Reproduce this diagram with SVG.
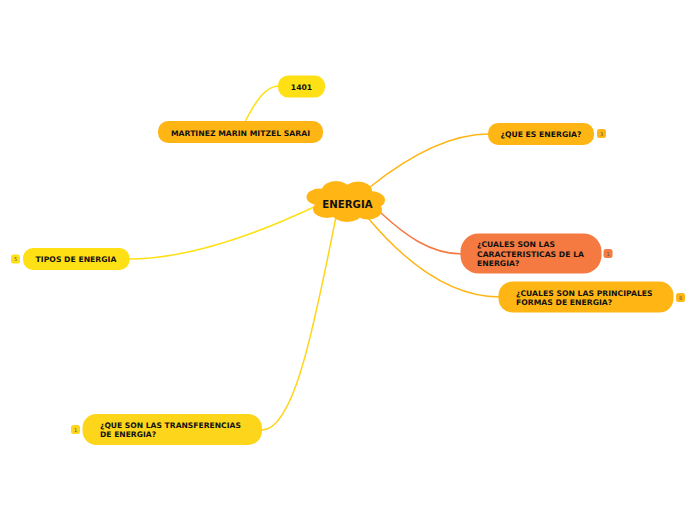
<svg xmlns="http://www.w3.org/2000/svg" width="696" height="520" viewBox="0 0 696 520">
<style>
text{font-family:"DejaVu Sans",sans-serif;font-weight:700;font-size:7.7px;fill:#111}
.c{fill:none;stroke-width:1.5}
.b text{font-size:5px;font-weight:400;fill:#555;text-anchor:middle}
.y{fill:#ffe014}.o{fill:#ffb615}.r{fill:#f47a42}.g{fill:#fdd51b}
</style>
<rect width="696" height="520" fill="#fff"/>
<g id="connectors">
<path class="c" stroke="#ffe014" d="M245 122C256 100 266 86 279 86"/>
<path class="c" stroke="#ffb615" d="M370 187C410 155 450 134 489 134"/>
<path class="c" stroke="#f47a42" d="M381 213C405 235 430 254 462 254"/>
<path class="c" stroke="#ffb615" d="M368 218C405 262 450 297 500 297"/>
<path class="c" stroke="#ffe014" d="M314 207C250 237 185 259 129 259"/>
<path class="c" stroke="#fdd51b" d="M336 217C315 320 295 430 262 430"/>
</g>
<g id="center" class="o">
<ellipse cx="320" cy="197" rx="13.500" ry="8.500"/>
<ellipse cx="336" cy="190" rx="14" ry="9"/>
<ellipse cx="358" cy="191" rx="14" ry="9.500"/>
<ellipse cx="371" cy="200" rx="14" ry="9"/>
<ellipse cx="368" cy="210" rx="14" ry="9.500"/>
<ellipse cx="347" cy="213" rx="15" ry="9"/>
<ellipse cx="327" cy="209" rx="14" ry="9"/>
<rect x="322" y="190" width="48" height="22"/>
<text x="347.500" y="208" text-anchor="middle" style="font-size:10.200px">ENERGIA</text>
</g>
<g id="n1401">
<rect class="y" x="278" y="75.500" width="47" height="22" rx="10"/>
<text x="301.500" y="89.500" text-anchor="middle">1401</text>
</g>
<g id="martinez">
<rect class="o" x="158" y="121" width="165" height="22" rx="10"/>
<text x="240.500" y="135.500" text-anchor="middle">MARTINEZ MARIN MITZEL SARAI</text>
</g>
<g id="que-es">
<rect class="o" x="488" y="123" width="106" height="22" rx="10"/>
<text x="541" y="137" text-anchor="middle">¿QUE ES ENERGIA?</text>
</g>
<g id="badge-3" class="b">
<rect class="o" x="597" y="129" width="9" height="9" rx="2.500"/>
<text x="601.500" y="135.500">3</text>
</g>
<g id="caracteristicas">
<rect class="r" x="460.500" y="233.500" width="141" height="40" rx="18"/>
<text x="477" y="247">¿CUALES SON LAS</text>
<text x="477" y="257">CARACTERISTICAS DE LA</text>
<text x="477" y="266">ENERGIA?</text>
</g>
<g id="badge-1" class="b">
<rect class="r" x="603.500" y="249" width="9" height="9" rx="2.500"/>
<text x="608" y="255.500">1</text>
</g>
<g id="formas">
<rect class="o" x="498.500" y="281.500" width="175" height="31" rx="14"/>
<text x="516" y="296">¿CUALES SON LAS PRINCIPALES</text>
<text x="516" y="305">FORMAS DE ENERGIA?</text>
</g>
<g id="badge-8" class="b">
<rect class="o" x="676" y="293" width="9" height="9" rx="2.500"/>
<text x="680.500" y="299.500">8</text>
</g>
<g id="tipos">
<rect class="y" x="23" y="248" width="106.500" height="22" rx="10"/>
<text x="76" y="262" text-anchor="middle">TIPOS DE ENERGIA</text>
</g>
<g id="badge-5" class="b">
<rect class="y" x="11" y="254.500" width="9" height="9" rx="2.500"/>
<text x="15.500" y="261">5</text>
</g>
<g id="transferencias">
<rect class="g" x="82.500" y="414" width="179.500" height="31" rx="14"/>
<text x="100" y="428" style="font-size:7.600px">¿QUE SON LAS TRANSFERENCIAS</text>
<text x="100" y="437" style="font-size:7.600px">DE ENERGIA?</text>
</g>
<g id="badge-t" class="b">
<rect class="g" x="71" y="425" width="9" height="9" rx="2.500"/>
<text x="75.500" y="431.500">1</text>
</g>
</svg>
